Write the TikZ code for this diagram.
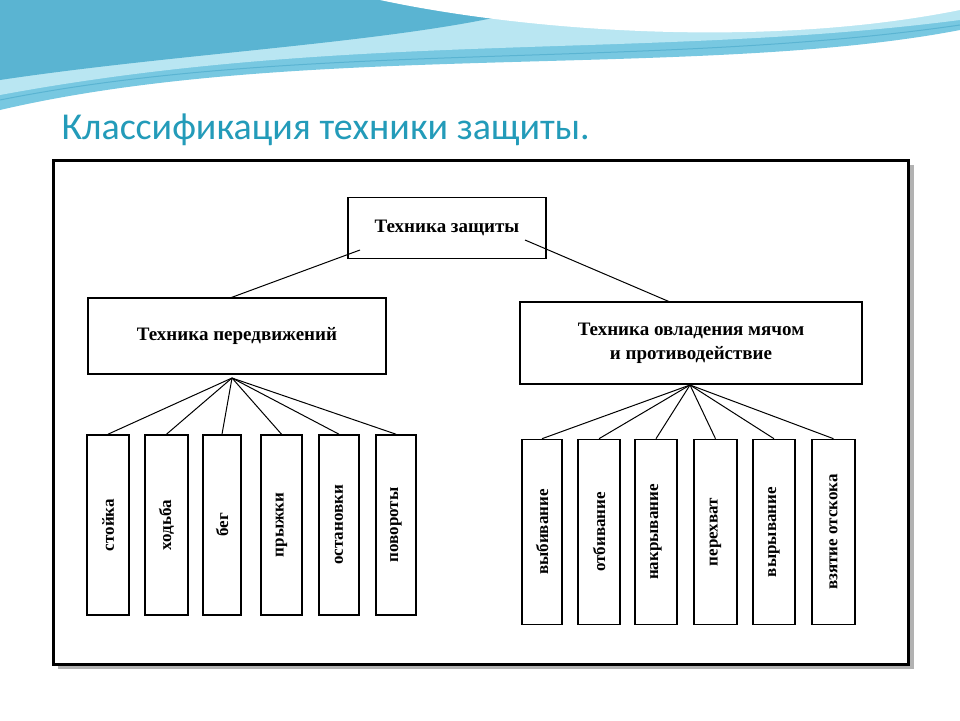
\documentclass[tikz,border=0pt]{standalone}
\usepackage{fontspec}
\setmainfont{Liberation Serif}
\newfontfamily\titlefont{Carlito}
\definecolor{tealt}{RGB}{35,155,185}
\definecolor{wave1}{RGB}{120,200,225}
\definecolor{wave2}{RGB}{185,230,242}
\definecolor{wave3}{RGB}{90,180,210}
\begin{document}
\begin{tikzpicture}[x=1pt,y=-1pt,
  bx/.style={draw=black,line width=1.6pt,fill=white,inner sep=0pt},
  lf/.style={draw=black,line width=1.6pt,fill=white},
  ln/.style={draw=black,line width=1pt},
  lt/.style={font=\fontsize{17}{18}\selectfont\bfseries,rotate=90}]
\useasboundingbox (0,0) rectangle (960,720);
\fill[white] (0,0) rectangle (960,720);
% waves
\fill[wave1] (0,0) -- (960,0) -- (960,30) .. controls (700,80) and (300,40) .. (0,110) -- cycle;
\fill[wave2] (0,0) -- (960,0) -- (960,20) .. controls (650,60) and (350,30) .. (0,95) -- cycle;
\fill[wave3] (0,0) -- (560,0) .. controls (450,40) and (200,50) .. (0,80) -- cycle;
\fill[white] (380,0) .. controls (520,30) and (760,50) .. (960,10) -- (960,0) -- cycle;
\draw[wave3,line width=1pt] (0,100) .. controls (300,40) and (650,70) .. (960,25);
% title
\node[anchor=west,text=tealt,font=\titlefont\fontsize{38}{42}\selectfont] (title) at (58,130) {Классификация техники защиты.};
% frame
\fill[gray!60] (58,165) rectangle (914,669);
\draw[black,line width=3pt,fill=white] (53,160) rectangle (908,664);
% boxes
\node[bx,minimum width=198,minimum height=61,font=\fontsize{19}{21}\selectfont\bfseries] (root) at (447,228) {Техника защиты};
\node[bx,minimum width=298,minimum height=76,font=\fontsize{19}{21}\selectfont\bfseries] (l) at (237,336) {Техника передвижений};
\node[bx,minimum width=342,minimum height=82,align=center,font=\fontsize{19}{24}\selectfont\bfseries] (r) at (691,343) {Техника овладения мячом\\и противодействие};
\coordinate (rl) at (360,250);
\coordinate (rr) at (525,240);
\coordinate (lt) at (230,298);
\coordinate (rt) at (670,302);
\draw[ln] (rl) -- (lt);
\draw[ln] (rr) -- (rt);
\coordinate (lc) at (232,378);
\coordinate (rc) at (690,385);
\foreach \n/\a/\b/\t in {l1/87/129/стойка,l2/145/188/ходьба,l3/203/241/бег,l4/261/302/прыжки,l5/319/359/остановки,l6/376/416/повороты}{
  \node[lf,minimum width=\b-\a,minimum height=180,inner sep=0pt] (\n) at ({(\a+\b)/2},525) {};
  \node[lt] at (\n) {\t};
  \draw[ln] (lc) -- (\n.north);
}
\foreach \n/\a/\b/\t in {r1/522/562/выбивание,r2/578/620/отбивание,r3/635/677/накрывание,r4/694/737/перехват,r5/753/795/вырывание,r6/812/855/взятие отскока}{
  \node[lf,minimum width=\b-\a,minimum height=185,inner sep=0pt] (\n) at ({(\a+\b)/2},532) {};
  \node[lt] at (\n) {\t};
  \draw[ln] (rc) -- (\n.north);
}
\end{tikzpicture}
\end{document}
